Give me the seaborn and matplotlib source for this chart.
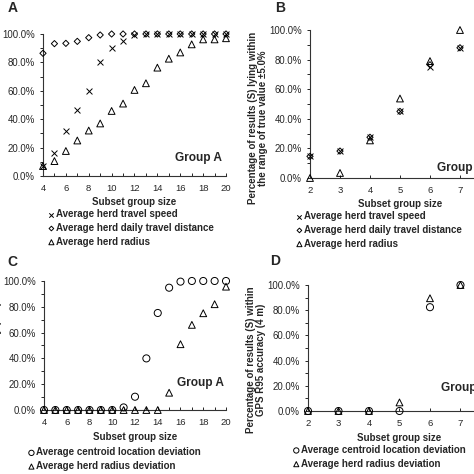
import matplotlib
matplotlib.use("Agg")
import matplotlib.pyplot as plt
import seaborn as sns
from matplotlib.ticker import PercentFormatter, MultipleLocator

# panel A: 5% window, group A
size_a = [4, 5, 6, 7, 8, 9, 10, 11, 12, 13, 14, 15, 16, 17, 18, 19, 20]
speed_a = [7, 16, 31.5, 46.5, 60, 80, 90, 95.3, 99.3, 100, 100, 100, 100, 100, 100, 100, 100]
dist_a = [86.4, 93.2, 93.4, 94.8, 97.4, 99.3, 100, 100, 100, 100, 100, 100, 100, 100, 100, 100, 100]
radius_a = [7, 10.5, 17.6, 25, 32, 37, 45.8, 51, 60.6, 65.3, 76.3, 82.6, 87, 92.7, 96.2, 96.2, 97]

# panel B: 5% window, group B
size_b = [2, 3, 4, 5, 6, 7]
speed_b = [14.6, 18.2, 27.5, 45, 75, 88]
dist_b = [14.6, 18.2, 27.5, 45, 76.5, 88]
radius_b = [0, 3.4, 25.4, 53.7, 79, 100]

# panel C: GPS accuracy, group A
size_c = [4, 5, 6, 7, 8, 9, 10, 11, 12, 13, 14, 15, 16, 17, 18, 19, 20]
centroid_c = [0, 0, 0, 0, 0, 0, 0, 2, 10.3, 40, 75.2, 94.8, 99.5, 100, 100, 100, 100]
raddev_c = [0, 0, 0, 0, 0, 0, 0, 0, 0, 0, 0, 13.4, 51, 66, 75, 82, 95.6]

# panel D: GPS accuracy, group B
size_d = [2, 3, 4, 5, 6, 7]
centroid_d = [0, 0, 0, 0, 82.4, 100]
raddev_d = [0, 0, 0, 6.8, 89.5, 100]

lab_speed = "Average herd travel speed"
lab_dist = "Average herd daily travel distance"
lab_radius = "Average herd radius"
lab_centroid = "Average centroid location deviation"
lab_raddev = "Average herd radius deviation"

ylab_top = "Percentage of results (S) lying within\nthe range of true value \u00b15.0%"
ylab_bot = "Percentage of results (S) within\nGPS R95 accuracy (4 m)"

sns.set_style("ticks")
plt.rcParams["font.family"] = ["Liberation Sans", "DejaVu Sans"]

fig = plt.figure(figsize=(4.74, 4.74), dpi=100)
ax_a = fig.add_axes([0.0907, 0.6287, 0.3861, 0.2996])
ax_b = fig.add_axes([0.654, 0.6245, 0.3797, 0.3122])
ax_c = fig.add_axes([0.0928, 0.135, 0.384, 0.2722])
ax_d = fig.add_axes([0.6498, 0.1329, 0.386, 0.2658])

MK = {
    "x": dict(marker="x", color="black", s=18, linewidth=0.7),
    "D": dict(marker="D", facecolors="none", edgecolor="black", s=10, linewidth=0.7),
    "^": dict(marker="^", facecolors="none", edgecolor="black", s=24, linewidth=0.7),
    "o": dict(marker="o", facecolors="none", edgecolor="black", s=26, linewidth=0.7),
}


def panel(ax, xs, series, xlim, xmajor, ylabel, group, gpos, leg_pos):
    for ys, mk, lab in series:
        sns.scatterplot(x=xs, y=ys, ax=ax, label=lab, clip_on=False, zorder=3, **MK[mk])
    ax.set_xlim(*xlim)
    ax.set_ylim(0, 100)
    ax.xaxis.set_major_locator(MultipleLocator(xmajor))
    ax.xaxis.set_minor_locator(MultipleLocator(1))
    ax.yaxis.set_major_locator(MultipleLocator(20))
    ax.yaxis.set_minor_locator(MultipleLocator(10))
    ax.yaxis.set_major_formatter(PercentFormatter(decimals=1))
    ax.tick_params(axis="x", which="both", direction="in", length=2.5, width=0.7,
                   labelsize=6.8, pad=5.5)
    ax.tick_params(axis="y", which="both", direction="out", length=2.5, width=0.7,
                   labelsize=6.9, pad=3.5)
    for s in ["left", "bottom"]:
        ax.spines[s].set_linewidth(0.8)
        ax.spines[s].set_color("#333333")
    sns.despine(ax=ax)
    ax.set_xlabel("Subset group size", fontsize=7, fontweight="bold", labelpad=3.5)
    ax.set_ylabel(ylabel, fontsize=7, fontweight="bold", linespacing=1.0)
    # ylabel right edge ~42 px left of the spine, a bit below the axes middle
    w_px = ax.get_position().width * 474
    ax.yaxis.set_label_coords(-42 / w_px, 0.405)
    ax.text(gpos[0], gpos[1], group, transform=ax.transAxes, fontsize=8.6,
            fontweight="bold", ha=gpos[2], va="center")
    ax.legend(loc="upper left", bbox_to_anchor=leg_pos, frameon=False,
              prop=dict(size=7, weight="bold"), handlelength=0.6, handletextpad=0.2,
              labelspacing=0.38, borderpad=0, borderaxespad=0, markerscale=0.75)


panel(ax_a, size_a, [(speed_a, "x", lab_speed), (dist_a, "D", lab_dist), (radius_a, "^", lab_radius)],
      (4, 20), 2, ylab_top, "Group A", (0.98, 0.127, "right"), (0.03, -0.235))
panel(ax_b, size_b, [(speed_b, "x", lab_speed), (dist_b, "D", lab_dist), (radius_b, "^", lab_radius)],
      (2, 8), 1, ylab_top, "Group B", (0.705, 0.07, "left"), (-0.075, -0.225))
panel(ax_c, size_c, [(centroid_c, "o", lab_centroid), (raddev_c, "^", lab_raddev)],
      (4, 20), 2, ylab_bot, "Group A", (0.99, 0.21, "right"), (-0.085, -0.29))
panel(ax_d, size_d, [(centroid_d, "o", lab_centroid), (raddev_d, "^", lab_raddev)],
      (2, 8), 1, ylab_bot, "Group B", (0.727, 0.18, "left"), (-0.08, -0.27))

for t, x, y in [("A", 13, 8), ("B", 280, 8), ("C", 12, 262), ("D", 275, 261)]:
    fig.text(x / 474, 1 - y / 474, t, fontsize=10, fontweight="bold", ha="center", va="center")

fig.savefig("out.png", dpi=100)
